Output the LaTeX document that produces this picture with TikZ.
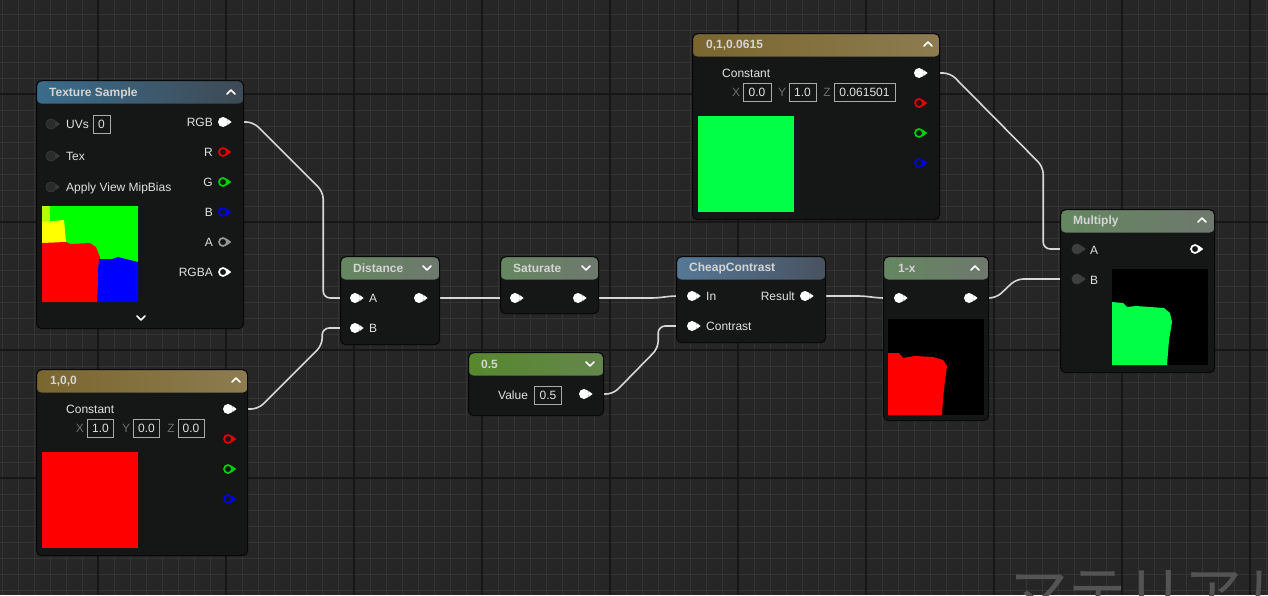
\documentclass[tikz,border=0pt]{standalone}
\usepackage{fontspec}
\setmainfont{Liberation Sans}
\newfontfamily\jpfont{Noto Sans CJK JP}
\usetikzlibrary{positioning, calc}

\definecolor{GridBg}{RGB}{38,38,38}
\definecolor{GridMinor}{RGB}{52,52,52}
\definecolor{GridMajor}{RGB}{22,22,22}
\definecolor{NodeBody}{RGB}{21,23,22}
\definecolor{NodeEdge}{RGB}{8,8,8}
\definecolor{TitleText}{RGB}{212,212,212}
\definecolor{LabelText}{RGB}{225,225,225}
\definecolor{AxisText}{RGB}{110,110,110}
\definecolor{BoxEdge}{RGB}{170,170,170}
\definecolor{WireCol}{RGB}{215,215,215}
\definecolor{PinRed}{RGB}{230,0,0}
\definecolor{PinGreen}{RGB}{0,210,0}
\definecolor{PinBlue}{RGB}{0,0,235}
\definecolor{PinGray}{RGB}{150,150,150}
\definecolor{PinDim}{RGB}{42,42,42}
\definecolor{PinDimEdge}{RGB}{58,58,58}
\definecolor{PinMul}{RGB}{62,62,62}
\definecolor{TexRed}{RGB}{255,0,0}
\definecolor{TexGreen}{RGB}{0,255,0}
\definecolor{TexBlue}{RGB}{0,0,255}
\definecolor{TexYellow}{RGB}{255,255,0}
\definecolor{ConstGreen}{RGB}{0,255,70}
\definecolor{Watermark}{RGB}{84,84,84}
% header shades
\definecolor{HdBlueL}{RGB}{58,108,140}
\definecolor{HdBlueM}{RGB}{36,72,98}
\definecolor{HdBlueR}{RGB}{62,74,84}
\definecolor{HdGoldL}{RGB}{122,102,46}
\definecolor{HdGoldM}{RGB}{72,57,22}
\definecolor{HdGoldR}{RGB}{140,124,80}
\definecolor{HdGreenL}{RGB}{100,135,95}
\definecolor{HdGreenM}{RGB}{74,104,70}
\definecolor{HdGreenR}{RGB}{110,120,110}
\definecolor{HdLimeL}{RGB}{86,136,46}
\definecolor{HdLimeM}{RGB}{44,84,24}
\definecolor{HdLimeR}{RGB}{100,134,76}
\definecolor{HdSteelL}{RGB}{86,120,150}
\definecolor{HdSteelM}{RGB}{68,98,124}
\definecolor{HdSteelR}{RGB}{72,82,96}

\pgfdeclarelayer{gridlayer}
\pgfdeclarelayer{wirelayer}
\pgfsetlayers{gridlayer,wirelayer,main}

\tikzset{
  uenode/.style n args={3}{rectangle, rounded corners=5pt, draw=NodeEdge, line width=1.2pt,
    fill=NodeBody, anchor=north west, inner sep=0pt,
    path picture={\shade[left color=#1, middle color=#2, right color=#3]
      (path picture bounding box.north west) rectangle ([yshift=-23pt]path picture bounding box.north east);}},
  ttl/.style={font=\fontsize{12}{14}\selectfont\bfseries, text=TitleText, anchor=west, inner sep=0pt,
    text height=8.6pt, text depth=0pt},
  lbl/.style={font=\fontsize{12}{14}\selectfont, text=LabelText, anchor=west, inner sep=0pt,
    text height=8.6pt, text depth=0pt},
  axis/.style={lbl, text=AxisText, anchor=center},
  valbox/.style={lbl, anchor=center, draw=BoxEdge, line width=0.9pt, minimum height=18pt},
  pinon/.style={circle, fill=white, inner sep=0pt, minimum size=10pt},
  pinoff/.style={circle, draw=#1, line width=1.7pt, fill=NodeBody, inner sep=0pt, minimum size=8pt},
  pindim/.style={circle, fill=#1, draw=PinDimEdge, line width=0.8pt, inner sep=0pt, minimum size=10pt},
  chev/.style={draw=white, line width=1.6pt, line cap=round, line join=round},
  wire/.style={draw=WireCol, line width=1.6pt, rounded corners=7pt}
}

\begin{document}
\begin{tikzpicture}[x=1pt, y=-1pt]
  \useasboundingbox (0,0) rectangle (1268,595);
  \clip (0,0) rectangle (1268,595);

  % Grid
  \begin{pgfonlayer}{gridlayer}
    \fill[GridBg] (0,0) rectangle (1268,595);
    \foreach \x in {2,18,...,1266} \draw[GridMinor, line width=1pt] (\x,0) -- (\x,595);
    \foreach \y in {14,30,...,594} \draw[GridMinor, line width=1pt] (0,\y) -- (1268,\y);
    \foreach \x in {98,226,...,1250} \draw[GridMajor, line width=1.3pt] (\x,0) -- (\x,595);
    \foreach \y in {94,222,...,594} \draw[GridMajor, line width=1.3pt] (0,\y) -- (1268,\y);
  \end{pgfonlayer}

  % Texture Sample
  \node[uenode={HdBlueL}{HdBlueM}{HdBlueR}, minimum width=207pt, minimum height=248pt] (ts) at (36,80) {};
  \node[ttl] (tsTitle) at (49,92) {Texture Sample};
  \draw[chev] (227,94) -- (231,90) -- (235,94);
  \node[pindim=PinDim] (tsUV) at (51,124) {};
  \node[lbl] (tsUVl) at (66,124) {UVs};
  \node[valbox, minimum width=17pt] (tsUVv) at (101.5,124) {0};
  \node[pindim=PinDim] (tsTex) at (51,156) {};
  \node[lbl] (tsTexl) at (66,156) {Tex};
  \node[pindim=PinDim] (tsMip) at (51,187) {};
  \node[lbl] (tsMipl) at (66,187) {Apply View MipBias};
  \node[pinon] (tsRGB) at (223,122) {};
  \node[lbl, anchor=east] (tsRGBl) at (213,122) {RGB};
  \node[pinoff=PinRed] (tsR) at (223,152) {};
  \node[lbl, anchor=east] (tsRl) at (213,152) {R};
  \node[pinoff=PinGreen] (tsG) at (223,182) {};
  \node[lbl, anchor=east] (tsGl) at (213,182) {G};
  \node[pinoff=PinBlue] (tsB) at (223,212) {};
  \node[lbl, anchor=east] (tsBl) at (213,212) {B};
  \node[pinoff=PinGray] (tsA) at (223,242) {};
  \node[lbl, anchor=east] (tsAl) at (213,242) {A};
  \node[pinoff=white] (tsRGBA) at (223,272) {};
  \node[lbl, anchor=east] (tsRGBAl) at (213,272) {RGBA};
  % preview
  \fill[TexGreen] (42,206) rectangle (138,302);
  \fill[TexYellow!70!TexGreen] (42,206) rectangle (50,222);
  \fill[TexYellow] (42,222) -- (64,220) -- (66,242) -- (42,244) -- cycle;
  \fill[TexRed] (42,243) -- (66,242) -- (71,244) -- (90,243) -- (96,247) -- (100,257)
    -- (98,270) -- (97,302) -- (42,302) -- cycle;
  \fill[TexBlue] (99,259) -- (112,259) -- (118,257) -- (138,262) -- (138,302) -- (97,302)
    -- (98,270) -- cycle;
  \draw[chev] (137,316) -- (141,320) -- (145,316);

  % Constant 1,0,0
  \node[uenode={HdGoldL}{HdGoldM}{HdGoldR}, minimum width=211pt, minimum height=186pt] (cr) at (36,369) {};
  \node[ttl] (crTitle) at (50,380) {1,0,0};
  \node[lbl] (crName) at (66,409) {Constant};
  \node[axis] (crXl) at (80,428) {X};
  \node[valbox, minimum width=26pt] (crX) at (100.5,428) {1.0};
  \node[axis] (crYl) at (126,428) {Y};
  \node[valbox, minimum width=26pt] (crY) at (146.5,428) {0.0};
  \node[axis] (crZl) at (171,428) {Z};
  \node[valbox, minimum width=26pt] (crZ) at (191,428) {0.0};
  \draw[chev] (232,382) -- (236,378) -- (240,382);
  \node[pinon] (crOut) at (228,409) {};
  \node[pinoff=PinRed] (crR) at (228,439) {};
  \node[pinoff=PinGreen] (crG) at (228,469) {};
  \node[pinoff=PinBlue] (crB) at (228,499) {};
  \fill[TexRed] (42,452) rectangle (138,548);

  % Constant 0,1,0.0615
  \node[uenode={HdGoldL}{HdGoldM}{HdGoldR}, minimum width=247pt, minimum height=186pt] (cg) at (692,33) {};
  \node[ttl] (cgTitle) at (706,44) {0,1,0.0615};
  \node[lbl] (cgName) at (722,73) {Constant};
  \node[axis] (cgXl) at (736,92) {X};
  \node[valbox, minimum width=28pt] (cgX) at (757,92) {0.0};
  \node[axis] (cgYl) at (782,92) {Y};
  \node[valbox, minimum width=27pt] (cgY) at (802.5,92) {1.0};
  \node[axis] (cgZl) at (827,92) {Z};
  \node[valbox, minimum width=61pt] (cgZ) at (864.5,92) {0.061501};
  \draw[chev] (924,46) -- (928,42) -- (932,46);
  \node[pinon] (cgOut) at (919,73) {};
  \node[pinoff=PinRed] (cgR) at (919,103) {};
  \node[pinoff=PinGreen] (cgG) at (919,133) {};
  \node[pinoff=PinBlue] (cgB) at (919,163) {};
  \fill[ConstGreen] (698,116) rectangle (794,212);

  % Distance
  \node[uenode={HdGreenL}{HdGreenM}{HdGreenR}, minimum width=99pt, minimum height=88pt] (dist) at (340,256) {};
  \node[ttl] (distTitle) at (353,268) {Distance};
  \draw[chev] (423,266) -- (427,270) -- (431,266);
  \node[pinon] (distA) at (355,298) {};
  \node[lbl] (distAl) at (369,298) {A};
  \node[pinon] (distB) at (355,328) {};
  \node[lbl] (distBl) at (369,328) {B};
  \node[pinon] (distOut) at (419,298) {};

  % Saturate
  \node[uenode={HdGreenL}{HdGreenM}{HdGreenR}, minimum width=98pt, minimum height=57pt] (sat) at (500,256) {};
  \node[ttl] (satTitle) at (513,268) {Saturate};
  \draw[chev] (582,266) -- (586,270) -- (590,266);
  \node[pinon] (satIn) at (515,298) {};
  \node[pinon] (satOut) at (578,298) {};

  % 0.5
  \node[uenode={HdLimeL}{HdLimeM}{HdLimeR}, minimum width=135pt, minimum height=63pt] (half) at (468,352) {};
  \node[ttl] (halfTitle) at (481,364) {0.5};
  \draw[chev] (586,362) -- (590,366) -- (594,362);
  \node[lbl] (halfName) at (498,395) {Value};
  \node[valbox, minimum width=27pt] (halfV) at (548,395.5) {0.5};
  \node[pinon] (halfOut) at (584,394) {};

  % CheapContrast
  \node[uenode={HdSteelL}{HdSteelM}{HdSteelR}, minimum width=149pt, minimum height=86pt] (cc) at (676,256) {};
  \node[ttl] (ccTitle) at (689,267) {CheapContrast};
  \node[pinon] (ccIn) at (692,296) {};
  \node[lbl] (ccInl) at (706,296) {In};
  \node[pinon] (ccCon) at (692,326) {};
  \node[lbl] (ccConl) at (706,326) {Contrast};
  \node[pinon] (ccOut) at (805,296) {};
  \node[lbl, anchor=east] (ccOutl) at (795,296) {Result};

  % 1-x
  \node[uenode={HdGreenL}{HdGreenM}{HdGreenR}, minimum width=105pt, minimum height=164pt] (om) at (883,256) {};
  \node[ttl] (omTitle) at (898,268) {1-x};
  \draw[chev] (971,270) -- (975,266) -- (979,270);
  \node[pinon] (omIn) at (899,298) {};
  \node[pinon] (omOut) at (969,298) {};
  \fill[black] (888,319) rectangle (984,415);
  \fill[TexRed] (888,353) -- (899,353) -- (903,358) -- (915,356) -- (933,357) -- (943,360)
    -- (947,366) -- (945,380) -- (943,400) -- (942,415) -- (888,415) -- cycle;

  % Multiply
  \node[uenode={HdGreenL}{HdGreenM}{HdGreenR}, minimum width=154pt, minimum height=163pt] (mul) at (1060,209) {};
  \node[ttl] (mulTitle) at (1073,220) {Multiply};
  \draw[chev] (1198,222) -- (1202,218) -- (1206,222);
  \node[pindim=PinMul, draw=PinMul] (mulA) at (1077,249) {};
  \node[lbl] (mulAl) at (1090,250) {A};
  \node[pindim=PinMul, draw=PinMul] (mulB) at (1077,279) {};
  \node[lbl] (mulBl) at (1090,280) {B};
  \node[pinoff=white] (mulOut) at (1195,249) {};
  \fill[black] (1112,269) rectangle (1208,365);
  \fill[ConstGreen] (1112,302) -- (1123,303) -- (1127,307) -- (1136,306) -- (1164,308)
    -- (1170,313) -- (1172,322) -- (1169,340) -- (1167,365) -- (1112,365) -- cycle;

  % Pin tips
  \foreach \p/\c in {tsUV/PinDimEdge, tsTex/PinDimEdge, tsMip/PinDimEdge, tsRGB/white,
      tsR/PinRed, tsG/PinGreen, tsB/PinBlue, tsA/PinGray, tsRGBA/white,
      crOut/white, crR/PinRed, crG/PinGreen, crB/PinBlue,
      cgOut/white, cgR/PinRed, cgG/PinGreen, cgB/PinBlue,
      distA/white, distB/white, distOut/white, satIn/white, satOut/white, halfOut/white,
      ccIn/white, ccCon/white, ccOut/white, omIn/white, omOut/white,
      mulA/PinMul, mulB/PinMul, mulOut/white}
    \fill[\c] ([xshift=-0.8pt]\p.east) -- ++(0,-3.2) -- ++(4.2,3.2) -- ++(-4.2,3.2) -- cycle;

  % Wires
  \begin{pgfonlayer}{wirelayer}
    \draw[wire] (tsRGB.east) -- ++(25,0) -- ++(70,70) |- (distA.west);
    \draw[wire] (crOut.east) -- ++(25,0) -- ++(64,-64) |- (distB.west);
    \draw[wire] (distOut.east) -- (satIn.west);
    \draw[wire] (satOut.east) -- ++(75,0) -- ++(12,-2) -- (ccIn.west);
    \draw[wire] (halfOut.east) -- ++(24,0) -- ++(45,-46) |- (ccCon.west);
    \draw[wire] (ccOut.east) -- ++(55,0) -- ++(12,2) -- (omIn.west);
    \draw[wire] (omOut.east) -- ++(22,0) -- ++(20,-19) -- (mulB.west);
    \draw[wire] (cgOut.east) -- ++(26,0) -- ++(93,94) |- (mulA.west);
  \end{pgfonlayer}

  % Watermark
  \node[font=\jpfont\fontsize{58}{58}\selectfont, text=Watermark, anchor=base west, inner sep=0pt]
    (mark) at (1010,614) {マテリアル};
\end{tikzpicture}
\end{document}
